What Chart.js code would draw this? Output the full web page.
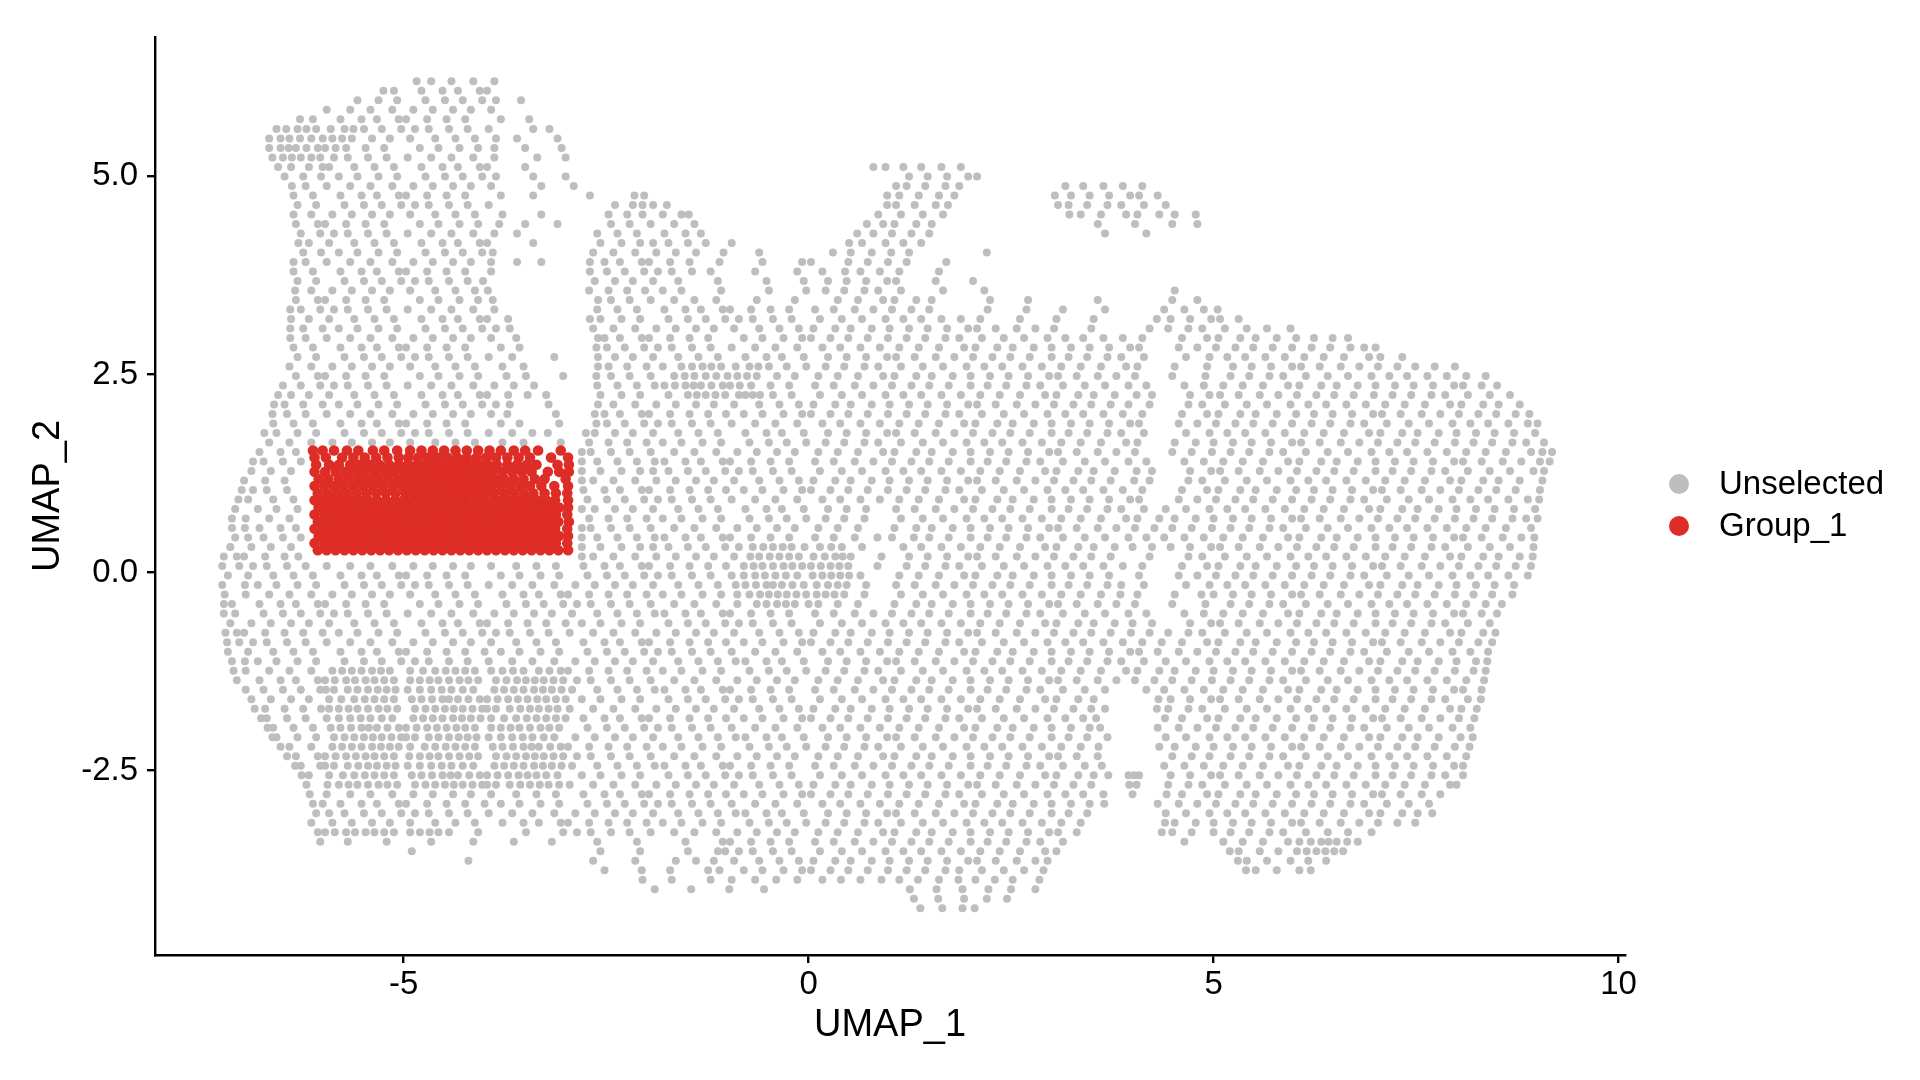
<!DOCTYPE html>
<html>
<head>
<meta charset="utf-8">
<script src="https://cdn.jsdelivr.net/npm/chart.js@4.4.1/dist/chart.umd.min.js"></script>
<style>
html,body{margin:0;padding:0;background:#fff;}
canvas{display:block;}
</style>
</head>
<body>
<canvas id="c" width="1920" height="1080"></canvas>
<script>
// ---- data ----
const seriesNames = ['Unselected', 'Group_1'];
const seriesColors = ['#BEBEBE', '#DE2D26'];
const axisTitles = ['UMAP_1', 'UMAP_2'];
const xTickValues = [-5, 0, 5, 10];
const xTickLabels = ['-5', '0', '5', '10'];
const yTickValues = [-2.5, 0, 2.5, 5];
const yTickLabels = ['-2.5', '0.0', '2.5', '5.0'];

// each row: [y, x1, x2, ...]
const unselectedRows = [
[6.20,-4.84,-4.66,-4.41,-4.14,-3.88],
[6.08,-5.25,-5.12,-4.78,-4.52,-4.33,-4.06,-3.97],
[5.96,-5.57,-5.31,-5.08,-4.73,-4.49,-4.27,-4.03,-3.86,-3.55],
[5.84,-5.95,-5.66,-5.41,-5.14,-4.88,-4.64,-4.39,-4.17,-3.92],
[5.72,-6.28,-6.12,-5.78,-5.52,-5.33,-5.06,-4.97,-4.71,-4.47,-4.24,-3.8,-3.45],
[5.60,-6.57,-6.45,-6.31,-6.2,-6.08,-5.9,-5.73,-5.62,-5.49,-5.27,-5.03,-4.86,-4.69,-4.44,-4.21,-3.95,-3.4,-3.2],
[5.48,-6.66,-6.52,-6.41,-6.28,-6.14,-6.0,-5.88,-5.76,-5.64,-5.39,-5.17,-4.92,-4.61,-4.36,-4.12,-3.86,-3.6,-3.1],
[5.36,-6.66,-6.52,-6.42,-6.33,-6.2,-6.06,-5.97,-5.84,-5.71,-5.47,-5.24,-4.8,-4.57,-4.31,-4.08,-3.88,-3.5,-3.05],
[5.24,-6.62,-6.49,-6.38,-6.27,-6.14,-6.03,-5.86,-5.69,-5.44,-5.21,-4.95,-4.66,-4.41,-4.14,-3.88,-3.35,-3.0],
[5.12,-6.55,-6.39,-6.17,-6.0,-5.92,-5.61,-5.36,-5.12,-4.78,-4.52,-4.33,-4.06,-3.97,-3.5,0.8,0.95,1.17,1.39,1.64,1.88],
[5.00,-6.47,-6.24,-6.02,-5.8,-5.57,-5.31,-5.08,-4.73,-4.49,-4.27,-4.03,-3.86,-3.4,-3.0,1.24,1.47,1.71,1.97,2.08],
[4.88,-6.38,-6.21,-5.95,-5.66,-5.41,-5.14,-4.88,-4.64,-4.39,-4.17,-3.92,-3.3,-2.9,1.08,1.21,1.44,1.69,1.86,3.17,3.39,3.64,3.88,4.12],
[4.76,-6.36,-6.12,-5.78,-5.52,-5.33,-5.06,-4.97,-4.71,-4.47,-4.24,-3.8,-3.4,-2.7,-2.15,-2.03,0.97,1.12,1.36,1.61,1.8,3.04,3.24,3.47,3.71,3.97,4.08,4.31],
[4.64,-6.31,-6.08,-5.73,-5.49,-5.27,-5.03,-4.86,-4.69,-4.44,-4.21,-3.95,-2.39,-2.17,-2.05,-1.92,-1.75,0.97,1.08,1.31,1.57,1.72,3.08,3.21,3.44,3.69,3.86,4.14,4.41],
[4.52,-6.36,-6.14,-5.88,-5.64,-5.39,-5.17,-4.92,-4.61,-4.36,-4.12,-3.78,-3.3,-2.47,-2.24,-2.05,-1.8,-1.57,-1.48,0.86,1.14,1.41,1.66,3.22,3.36,3.61,3.92,4.06,4.33,4.52,4.78],
[4.40,-6.33,-6.06,-5.97,-5.71,-5.47,-5.24,-4.8,-4.57,-4.31,-4.08,-3.82,-3.5,-3.1,-2.44,-2.21,-1.95,-1.66,-1.41,0.72,0.92,1.06,1.33,1.52,3.57,4.03,4.49,4.8],
[4.28,-6.27,-6.03,-5.86,-5.69,-5.44,-5.21,-4.95,-4.66,-4.41,-4.14,-3.88,-3.6,-2.61,-2.36,-2.12,-1.78,-1.52,-1.33,0.6,0.8,1.03,1.27,1.49,3.66,4.17],
[4.16,-6.3,-6.17,-5.92,-5.61,-5.36,-5.12,-4.78,-4.52,-4.33,-4.06,-3.97,-3.4,-2.57,-2.31,-2.08,-1.92,-1.73,-1.49,-1.27,-0.95,0.5,0.66,0.95,1.17,1.39],
[4.04,-6.24,-6.02,-5.8,-5.57,-5.31,-5.08,-4.73,-4.49,-4.27,-4.03,-3.9,-2.66,-2.41,-2.14,-1.88,-1.64,-1.39,-1.05,-0.61,0.3,0.52,0.78,1.02,1.24,2.2],
[3.92,-6.36,-6.21,-5.95,-5.66,-5.41,-5.14,-4.88,-4.64,-4.39,-4.17,-3.92,-3.6,-3.3,-2.7,-2.52,-2.33,-2.06,-1.97,-1.71,-1.47,-1.1,-0.57,-0.08,0.03,0.49,0.73,0.98,1.21,1.7],
[3.80,-6.36,-6.12,-5.78,-5.52,-5.33,-5.06,-4.97,-4.71,-4.47,-4.24,-3.92,-2.7,-2.49,-2.27,-2.03,-1.86,-1.69,-1.44,-1.21,-0.66,-0.14,0.17,0.45,0.64,0.88,1.12,1.61],
[3.68,-6.31,-6.08,-5.73,-5.49,-5.27,-5.03,-4.86,-4.69,-4.44,-4.21,-4.02,-2.64,-2.39,-2.17,-1.92,-1.61,-1.12,-0.52,-0.06,0.24,0.47,0.71,0.97,1.08,1.57,2.03],
[3.56,-6.34,-6.14,-5.88,-5.64,-5.39,-5.17,-4.92,-4.61,-4.36,-4.12,-3.96,-2.71,-2.47,-2.24,-2.02,-1.8,-1.57,-1.08,-0.49,-0.03,0.21,0.44,0.69,0.86,1.14,1.66,2.17,4.52],
[3.44,-6.33,-6.06,-5.97,-5.71,-5.47,-5.24,-4.8,-4.57,-4.31,-4.08,-3.9,-2.6,-2.44,-2.21,-1.95,-1.66,-1.41,-1.14,-0.64,-0.17,0.36,0.61,0.92,1.06,1.33,1.52,2.24,2.71,3.57,4.49,4.8],
[3.32,-6.4,-6.27,-6.03,-5.86,-5.69,-5.44,-5.21,-4.95,-4.66,-4.41,-4.14,-3.88,-2.61,-2.36,-2.12,-1.78,-1.52,-1.33,-1.06,-0.97,-0.71,-0.47,-0.24,0.08,0.31,0.57,0.8,1.03,1.27,1.49,2.21,2.69,3.14,3.66,4.39,4.64,4.88,5.05],
[3.20,-6.39,-6.17,-5.92,-5.61,-5.36,-5.12,-4.78,-4.52,-4.33,-4.06,-3.97,-3.71,-2.7,-2.57,-2.31,-2.08,-1.73,-1.49,-1.27,-1.03,-0.86,-0.69,-0.44,-0.21,0.14,0.41,0.66,0.95,1.17,1.39,1.64,1.88,2.12,2.61,3.06,3.52,4.3,4.47,4.71,4.97,5.08,5.31],
[3.08,-6.4,-6.24,-6.0,-5.8,-5.57,-5.31,-5.08,-4.73,-4.49,-4.27,-4.03,-3.86,-3.69,-2.66,-2.41,-2.14,-1.88,-1.64,-1.39,-1.17,-0.92,-0.61,-0.36,-0.12,0.06,0.33,0.52,0.78,1.0,1.24,1.47,1.71,1.97,2.08,2.31,2.57,2.8,3.03,3.49,4.21,4.44,4.69,4.86,5.14,5.41,5.66,5.95],
[2.96,-6.4,-6.21,-5.95,-5.66,-5.41,-5.14,-4.88,-4.64,-4.39,-4.17,-3.92,-3.61,-2.6,-2.52,-2.33,-2.06,-1.97,-1.71,-1.47,-1.24,-0.8,-0.57,-0.31,-0.08,0.03,0.27,0.49,0.73,0.98,1.21,1.44,1.69,1.86,2.14,2.41,2.66,2.95,3.17,3.39,3.64,3.88,4.12,4.61,4.92,5.06,5.33,5.52,5.78,6.02,6.24,6.47,6.66],
[2.84,-6.36,-6.12,-5.78,-5.52,-5.33,-5.06,-4.97,-4.71,-4.47,-4.24,-3.8,-3.57,-2.62,-2.49,-2.27,-2.03,-1.86,-1.69,-1.44,-1.21,-0.95,-0.66,-0.41,-0.14,0.17,0.39,0.64,0.88,1.12,1.36,1.61,1.92,2.06,2.33,2.52,2.78,3.0,3.24,3.47,3.71,3.97,4.08,4.57,4.8,5.03,5.27,5.49,5.73,5.97,6.21,6.44,6.69,6.86,7.0],
[2.72,-6.31,-6.08,-5.73,-5.49,-5.27,-5.03,-4.86,-4.69,-4.44,-4.21,-3.95,-3.66,-3.14,-2.6,-2.39,-2.17,-1.92,-1.61,-1.36,-1.12,-0.78,-0.52,-0.33,-0.06,0.24,0.47,0.71,0.97,1.08,1.31,1.57,1.8,2.03,2.27,2.49,2.73,3.0,3.21,3.44,3.69,3.86,4.14,4.66,4.95,5.17,5.39,5.64,5.88,6.12,6.36,6.61,6.92,7.06,7.33],
[2.60,-6.41,-6.14,-5.88,-5.64,-5.39,-5.17,-4.92,-4.61,-4.36,-4.12,-3.78,-3.52,-2.6,-2.47,-2.24,-2.0,-1.8,-1.57,-1.44,-1.31,-1.2,-1.08,-0.9,-0.73,-0.62,-0.49,-0.27,-0.03,0.21,0.44,0.69,0.86,1.14,1.41,1.66,1.95,2.17,2.39,2.64,2.88,3.12,3.36,3.61,3.92,4.06,4.52,4.92,5.24,5.47,5.71,5.97,6.08,6.31,6.57,6.8,7.03,7.27,7.49,7.73,7.98],
[2.48,-6.33,-6.06,-5.97,-5.71,-5.47,-5.24,-4.8,-4.57,-4.31,-4.08,-3.73,-3.49,-3.03,-2.62,-2.44,-2.21,-1.95,-1.66,-1.53,-1.41,-1.27,-1.14,-1.0,-0.88,-0.76,-0.64,-0.39,-0.17,0.12,0.36,0.61,0.92,1.06,1.33,1.52,1.78,2.0,2.24,2.47,2.71,2.97,3.08,3.31,3.57,3.8,4.03,4.49,4.9,5.21,5.44,5.69,5.86,6.14,6.41,6.66,6.95,7.17,7.39,7.64,7.88,8.12,8.36],
[2.36,-6.49,-6.27,-6.03,-5.86,-5.69,-5.44,-5.21,-4.95,-4.66,-4.41,-4.14,-3.88,-3.64,-3.39,-2.61,-2.36,-2.12,-1.9,-1.78,-1.65,-1.52,-1.42,-1.33,-1.2,-1.06,-0.97,-0.85,-0.71,-0.47,-0.24,0.08,0.31,0.57,0.8,1.03,1.27,1.49,1.73,2.0,2.21,2.44,2.69,2.86,3.14,3.41,3.66,3.95,4.17,4.64,4.88,5.12,5.36,5.61,5.92,6.06,6.33,6.52,6.78,7.0,7.24,7.47,7.71,7.97,8.08,8.31,8.5],
[2.24,-6.55,-6.39,-6.17,-5.92,-5.61,-5.36,-5.12,-4.78,-4.52,-4.33,-4.06,-3.97,-3.71,-3.47,-3.24,-2.57,-2.31,-2.08,-1.73,-1.49,-1.38,-1.27,-1.15,-1.03,-0.86,-0.78,-0.69,-0.6,-0.44,-0.21,0.14,0.41,0.66,0.95,1.17,1.39,1.64,1.88,2.12,2.36,2.61,2.92,3.06,3.33,3.52,3.78,4.05,4.24,4.71,4.95,5.08,5.31,5.57,5.8,6.03,6.27,6.49,6.73,6.98,7.21,7.44,7.69,7.86,8.14,8.41,8.66],
[2.12,-6.6,-6.47,-6.24,-6.0,-5.8,-5.57,-5.31,-5.08,-4.73,-4.49,-4.27,-4.03,-3.86,-3.69,-3.21,-2.6,-2.41,-2.14,-1.88,-1.64,-1.39,-1.17,-0.92,-0.61,-0.36,-0.12,0.06,0.33,0.52,0.78,1.0,1.24,1.47,1.71,1.97,2.08,2.31,2.57,2.8,3.03,3.27,3.49,3.73,3.95,4.21,4.69,4.86,5.14,5.41,5.66,5.95,6.17,6.39,6.64,6.88,7.12,7.36,7.61,7.92,8.06,8.33,8.52,8.78],
[2.00,-6.62,-6.44,-6.21,-5.95,-5.66,-5.41,-5.14,-4.88,-4.64,-4.39,-4.17,-3.92,-3.72,-3.12,-2.64,-2.52,-2.33,-2.06,-1.97,-1.71,-1.47,-1.24,-1.02,-0.8,-0.57,-0.31,-0.08,0.03,0.27,0.49,0.73,0.98,1.21,1.44,1.69,1.86,2.14,2.41,2.66,2.95,3.17,3.39,3.64,3.88,4.12,4.61,4.92,5.06,5.33,5.52,5.78,6.02,6.24,6.47,6.71,6.97,7.08,7.31,7.57,7.8,8.03,8.27,8.49,8.73,8.9],
[1.88,-6.61,-6.36,-6.12,-5.78,-5.52,-5.33,-5.06,-4.97,-4.71,-4.47,-4.24,-3.8,-3.57,-3.08,-2.62,-2.49,-2.27,-2.03,-1.86,-1.69,-1.44,-1.21,-0.95,-0.66,-0.41,-0.14,0.17,0.39,0.64,0.88,1.12,1.36,1.61,1.92,2.06,2.33,2.52,2.78,3.0,3.24,3.47,3.71,3.97,4.08,4.57,4.8,5.03,5.27,5.49,5.73,5.97,6.21,6.44,6.69,6.86,7.14,7.41,7.66,7.95,8.17,8.39,8.64,8.88,9.0],
[1.76,-6.72,-6.57,-6.31,-6.08,-5.73,-5.49,-5.27,-5.03,-4.86,-4.69,-4.44,-4.21,-3.95,-3.66,-3.41,-3.22,-2.75,-2.64,-2.39,-2.17,-1.92,-1.61,-1.36,-1.12,-0.78,-0.52,-0.33,-0.06,0.24,0.47,0.71,0.97,1.08,1.31,1.57,1.8,2.03,2.27,2.49,2.73,3.0,3.21,3.44,3.69,3.86,4.14,4.66,4.95,5.17,5.39,5.64,5.88,6.12,6.36,6.61,6.92,7.06,7.33,7.52,7.78,8.0,8.24,8.47,8.71,8.97],
[1.64,-6.66,-6.41,-6.14,-5.88,-5.64,-5.39,-5.17,-4.92,-4.61,-4.36,-4.12,-3.78,-3.52,-3.06,-2.71,-2.47,-2.24,-2.0,-1.8,-1.57,-1.31,-1.08,-0.73,-0.49,-0.27,-0.03,0.21,0.44,0.69,0.86,1.14,1.41,1.66,1.95,2.17,2.39,2.64,2.88,3.12,3.36,3.61,3.92,4.06,4.52,4.78,5.0,5.24,5.47,5.71,5.97,6.08,6.31,6.57,6.8,7.03,7.27,7.49,7.73,7.98,8.21,8.44,8.69,8.86,9.08],
[1.52,-6.78,-6.52,-6.33,-2.8,-2.69,-2.44,-2.21,-1.95,-1.66,-1.41,-1.14,-0.88,-0.64,-0.39,-0.17,0.12,0.36,0.61,0.92,1.06,1.33,1.52,1.78,2.0,2.24,2.47,2.71,2.97,3.08,3.31,3.57,3.8,4.03,4.49,4.73,4.98,5.21,5.44,5.69,5.86,6.14,6.41,6.66,6.95,7.17,7.39,7.64,7.88,8.12,8.36,8.61,8.92,9.06,9.18],
[1.40,-6.86,-6.73,-6.49,-6.27,-2.8,-2.61,-2.36,-2.12,-1.9,-1.78,-1.52,-1.33,-1.06,-0.97,-0.71,-0.47,-0.24,0.08,0.31,0.57,0.8,1.03,1.27,1.49,1.73,2.0,2.21,2.44,2.69,2.86,3.14,3.41,3.66,3.95,4.17,4.64,4.88,5.12,5.36,5.61,5.92,6.06,6.33,6.52,6.78,7.0,7.24,7.47,7.71,7.97,8.08,8.31,8.57,8.8,9.03,9.15],
[1.28,-6.88,-6.64,-6.39,-2.8,-2.57,-2.31,-2.08,-1.92,-1.73,-1.49,-1.27,-1.03,-0.86,-0.69,-0.44,-0.21,0.14,0.41,0.66,0.95,1.17,1.39,1.64,1.88,2.12,2.36,2.61,2.92,3.06,3.33,3.52,3.78,4.05,4.24,4.71,4.97,5.08,5.31,5.57,5.8,6.03,6.27,6.49,6.73,7.0,7.21,7.44,7.69,7.86,8.14,8.41,8.66,8.95,9.08],
[1.16,-6.97,-6.71,-6.47,-2.8,-2.66,-2.41,-2.14,-1.88,-1.64,-1.39,-1.17,-0.92,-0.61,-0.36,-0.12,0.06,0.33,0.52,0.78,1.0,1.24,1.47,1.71,1.97,2.08,2.31,2.57,2.8,3.03,3.27,3.49,3.73,4.02,4.21,4.69,4.86,5.14,5.41,5.66,5.95,6.17,6.39,6.64,6.88,7.12,7.36,7.61,7.92,8.06,8.33,8.52,8.78,9.06],
[1.04,-7.0,-6.86,-6.69,-6.44,-2.78,-2.52,-2.33,-2.06,-1.97,-1.71,-1.47,-1.24,-1.02,-0.8,-0.57,-0.31,-0.08,0.03,0.27,0.49,0.73,0.98,1.21,1.44,1.69,1.86,2.14,2.41,2.66,2.95,3.17,3.39,3.64,3.88,4.12,4.61,4.92,5.06,5.33,5.52,5.78,6.02,6.24,6.47,6.71,6.97,7.08,7.31,7.57,7.8,8.03,8.27,8.49,8.73,9.03],
[0.92,-7.04,-6.92,-6.61,-6.36,-2.73,-2.49,-2.27,-2.03,-1.86,-1.69,-1.44,-1.21,-0.95,-0.66,-0.41,-0.14,0.17,0.39,0.64,0.88,1.12,1.36,1.61,1.92,2.06,2.33,2.52,2.78,3.0,3.24,3.47,3.71,3.97,4.08,4.57,4.8,5.03,5.27,5.49,5.73,5.97,6.21,6.44,6.69,6.86,7.14,7.41,7.66,7.95,8.17,8.39,8.64,8.88,9.02],
[0.80,-7.08,-6.8,-6.57,-6.31,-2.8,-2.64,-2.39,-2.17,-1.92,-1.61,-1.36,-1.12,-0.78,-0.52,-0.33,-0.06,0.24,0.47,0.71,1.08,1.31,1.57,1.8,2.03,2.27,2.49,2.73,3.0,3.21,3.44,3.69,3.86,4.14,4.41,4.66,4.95,5.17,5.39,5.64,5.88,6.12,6.36,6.61,6.92,7.06,7.33,7.52,7.78,8.0,8.24,8.47,8.71,8.97],
[0.68,-7.12,-6.95,-6.66,-6.41,-2.71,-2.47,-2.24,-2.0,-1.8,-1.57,-1.31,-1.08,-0.73,-0.49,-0.27,-0.03,0.21,0.44,0.69,1.14,1.41,1.66,1.95,2.17,2.39,2.64,2.88,3.12,3.36,3.61,3.92,4.06,4.33,4.52,4.78,5.0,5.24,5.47,5.71,5.97,6.08,6.31,6.57,6.8,7.03,7.27,7.49,7.73,7.98,8.21,8.44,8.69,8.86,9.0],
[0.56,-7.12,-6.96,-6.78,-6.52,-6.33,-2.8,-2.69,-2.44,-2.21,-1.95,-1.66,-1.41,-1.14,-0.88,-0.64,-0.39,-0.17,0.12,0.36,0.61,1.06,1.33,1.52,1.78,2.0,2.24,2.47,2.71,2.97,3.08,3.31,3.57,3.8,4.03,4.27,4.49,4.73,4.98,5.21,5.44,5.69,5.86,6.14,6.41,6.66,6.95,7.17,7.39,7.64,7.88,8.12,8.36,8.61,8.92],
[0.44,-7.08,-6.92,-6.73,-6.49,-6.27,-2.8,-2.61,-2.36,-2.12,-1.9,-1.78,-1.52,-1.33,-1.06,-0.97,-0.71,-0.47,-0.24,0.08,0.31,0.57,0.85,1.03,1.3,1.49,1.73,2.0,2.21,2.44,2.69,2.86,3.14,3.41,3.66,3.95,4.17,4.39,4.64,4.88,5.12,5.36,5.61,5.92,6.06,6.33,6.52,6.78,7.0,7.24,7.47,7.71,7.97,8.08,8.31,8.57,8.8,8.96],
[0.32,-7.14,-6.88,-6.64,-6.39,-2.8,-2.57,-2.31,-2.08,-1.92,-1.73,-1.49,-1.27,-1.03,-0.86,-0.69,-0.56,-0.44,-0.32,-0.21,-0.05,0.14,0.28,0.41,0.66,1.17,1.39,1.64,1.88,2.12,2.36,2.61,2.92,3.06,3.33,3.52,3.78,4.0,4.24,4.47,4.71,4.97,5.08,5.31,5.57,5.8,6.03,6.27,6.49,6.73,7.0,7.21,7.44,7.69,7.86,8.14,8.41,8.66,8.95],
[0.20,-7.22,-7.06,-6.97,-6.71,-6.47,-6.3,-2.8,-2.66,-2.41,-2.14,-1.88,-1.64,-1.39,-1.17,-0.92,-0.72,-0.61,-0.48,-0.36,-0.24,-0.12,0.06,0.2,0.33,0.42,0.52,0.9,1.24,1.47,1.71,1.97,2.08,2.31,2.57,2.8,3.03,3.27,3.49,3.73,4.21,4.69,4.86,5.14,5.41,5.66,5.95,6.17,6.39,6.64,6.88,7.12,7.36,7.61,7.92,8.06,8.33,8.52,8.78,8.94],
[0.08,-7.24,-7.03,-6.86,-6.69,-6.44,-6.21,-5.95,-5.66,-5.41,-5.14,-4.88,-4.64,-4.39,-4.17,-3.92,-3.61,-3.36,-3.12,-2.78,-2.52,-2.33,-2.06,-1.97,-1.71,-1.47,-1.24,-1.02,-0.8,-0.68,-0.57,-0.44,-0.31,-0.2,-0.08,0.03,0.15,0.27,0.38,0.49,0.85,1.21,1.44,1.69,1.86,2.14,2.41,2.66,2.95,3.17,3.39,3.64,3.88,4.12,4.61,4.92,5.06,5.33,5.52,5.78,6.02,6.24,6.47,6.71,6.97,7.08,7.31,7.57,7.8,8.03,8.27,8.49,8.73,8.92],
[-0.04,-7.17,-6.92,-6.61,-6.36,-6.12,-5.78,-5.52,-5.33,-5.06,-4.97,-4.71,-4.47,-4.24,-3.8,-3.57,-3.31,-3.08,-2.73,-2.49,-2.27,-2.03,-1.86,-1.69,-1.44,-1.21,-0.95,-0.8,-0.66,-0.54,-0.41,-0.28,-0.14,0.05,0.17,0.28,0.39,0.5,0.64,1.12,1.36,1.61,1.92,2.06,2.33,2.52,2.78,3.0,3.24,3.47,3.71,4.08,4.57,4.8,5.03,5.27,5.49,5.73,5.97,6.21,6.44,6.69,6.86,7.14,7.41,7.66,7.95,8.17,8.39,8.64,8.88],
[-0.16,-7.24,-6.96,-6.8,-6.57,-6.31,-6.08,-5.73,-5.49,-5.27,-5.03,-4.86,-4.69,-4.44,-4.21,-3.95,-3.66,-3.41,-3.14,-2.88,-2.64,-2.39,-2.17,-1.92,-1.61,-1.36,-1.12,-0.9,-0.78,-0.65,-0.52,-0.44,-0.33,-0.2,-0.06,0.1,0.24,0.36,0.47,0.71,1.08,1.31,1.57,1.8,2.03,2.27,2.49,2.73,3.0,3.21,3.44,3.69,3.86,4.14,4.66,4.95,5.17,5.39,5.64,5.88,6.12,6.36,6.61,6.92,7.06,7.33,7.52,7.78,8.0,8.24,8.47,8.71],
[-0.28,-7.21,-6.95,-6.66,-6.41,-6.14,-5.88,-5.64,-5.39,-5.17,-4.92,-4.61,-4.36,-4.12,-3.78,-3.52,-3.33,-3.06,-2.97,-2.71,-2.47,-2.24,-2.0,-1.8,-1.57,-1.31,-1.08,-0.88,-0.73,-0.6,-0.49,-0.38,-0.27,-0.15,-0.03,0.1,0.21,0.32,0.44,0.69,1.14,1.41,1.66,1.95,2.17,2.39,2.64,2.88,3.12,3.36,3.61,3.85,4.06,4.52,4.85,5.0,5.24,5.47,5.71,5.97,6.08,6.31,6.57,6.8,7.03,7.27,7.49,7.73,7.98,8.21,8.44,8.69],
[-0.40,-7.22,-7.12,-6.78,-6.52,-6.33,-6.06,-5.97,-5.71,-5.47,-5.24,-4.8,-4.57,-4.31,-4.08,-3.73,-3.49,-3.27,-3.03,-2.86,-2.69,-2.44,-2.21,-1.95,-1.66,-1.41,-1.14,-0.88,-0.64,-0.52,-0.39,-0.28,-0.17,0.0,0.12,0.36,0.61,1.06,1.33,1.52,1.78,2.0,2.24,2.47,2.71,2.97,3.08,3.31,3.57,3.8,4.03,4.49,4.9,5.21,5.44,5.69,5.86,6.14,6.41,6.66,6.95,7.17,7.39,7.64,7.88,8.12,8.36,8.56],
[-0.52,-7.22,-7.08,-6.73,-6.49,-6.27,-6.03,-5.86,-5.69,-5.44,-5.21,-4.95,-4.66,-4.41,-4.14,-3.88,-3.64,-3.39,-3.17,-2.92,-2.61,-2.36,-2.12,-1.9,-1.78,-1.52,-1.33,-1.06,-0.97,-0.71,-0.47,-0.24,0.08,0.31,0.57,0.8,1.03,1.27,1.49,1.73,2.0,2.21,2.44,2.69,2.86,3.14,3.41,3.66,3.95,4.17,4.64,4.88,5.12,5.36,5.61,5.92,6.06,6.33,6.52,6.78,7.0,7.24,7.47,7.71,7.97,8.08,8.31,8.5],
[-0.64,-7.14,-6.88,-6.64,-6.39,-6.17,-5.92,-5.61,-5.36,-5.12,-4.78,-4.52,-4.33,-4.06,-3.97,-3.71,-3.47,-3.24,-3.0,-2.8,-2.57,-2.31,-2.08,-1.73,-1.49,-1.27,-1.03,-0.86,-0.69,-0.44,-0.21,0.14,0.41,0.66,0.95,1.17,1.39,1.64,1.88,2.12,2.36,2.61,2.92,3.06,3.33,3.52,3.78,4.0,4.24,4.71,4.97,5.08,5.31,5.57,5.8,6.03,6.27,6.49,6.73,7.0,7.21,7.44,7.69,7.86,8.14,8.41],
[-0.76,-7.2,-7.06,-6.97,-6.71,-6.47,-6.24,-6.0,-5.8,-5.57,-5.31,-5.08,-4.73,-4.49,-4.27,-4.03,-3.86,-3.69,-3.44,-3.21,-2.95,-2.66,-2.41,-2.14,-1.88,-1.64,-1.39,-1.17,-0.92,-0.61,-0.36,-0.12,0.06,0.33,0.52,0.78,1.0,1.24,1.47,1.71,1.97,2.08,2.31,2.57,2.8,3.03,3.27,3.49,3.73,3.98,4.21,4.44,4.69,4.86,5.14,5.41,5.66,5.95,6.17,6.39,6.64,6.88,7.12,7.36,7.61,7.92,8.06,8.33,8.48],
[-0.88,-7.18,-7.03,-6.86,-6.69,-6.44,-6.21,-5.95,-5.66,-5.41,-5.14,-4.88,-4.64,-4.39,-4.17,-3.92,-3.61,-3.36,-3.12,-2.78,-2.52,-2.33,-2.06,-1.97,-1.71,-1.47,-1.24,-1.02,-0.8,-0.57,-0.31,-0.08,0.03,0.27,0.49,0.73,0.98,1.21,1.44,1.69,1.86,2.14,2.41,2.66,2.95,3.17,3.39,3.64,3.88,4.12,4.36,4.61,4.92,5.06,5.33,5.52,5.78,6.02,6.24,6.47,6.71,6.97,7.08,7.31,7.57,7.8,8.03,8.27,8.44],
[-1.00,-7.17,-6.92,-6.61,-6.36,-6.12,-5.78,-5.52,-5.33,-5.06,-4.97,-4.71,-4.47,-4.24,-4.0,-3.8,-3.57,-3.31,-3.08,-2.73,-2.49,-2.27,-2.03,-1.86,-1.69,-1.44,-1.21,-0.95,-0.66,-0.41,-0.14,0.17,0.39,0.64,0.88,1.12,1.36,1.61,1.92,2.06,2.33,2.52,2.78,3.0,3.24,3.47,3.71,3.97,4.08,4.31,4.57,4.8,5.03,5.27,5.49,5.73,5.97,6.21,6.44,6.69,6.86,7.14,7.41,7.66,7.95,8.17,8.39],
[-1.12,-7.12,-6.96,-6.8,-6.57,-6.31,-6.08,-5.73,-5.49,-5.27,-5.03,-4.86,-4.69,-4.44,-4.21,-3.95,-3.66,-3.41,-3.14,-2.88,-2.64,-2.39,-2.17,-1.92,-1.61,-1.36,-1.12,-0.9,-0.78,-0.52,-0.33,-0.06,0.24,0.47,0.71,0.97,1.08,1.31,1.57,1.8,2.03,2.27,2.49,2.73,3.0,3.21,3.44,3.69,3.86,4.14,4.41,4.66,4.95,5.17,5.39,5.64,5.88,6.12,6.36,6.61,6.92,7.06,7.33,7.52,7.78,8.0,8.24,8.38],
[-1.24,-7.1,-6.95,-6.66,-6.41,-6.14,-5.88,-5.76,-5.64,-5.52,-5.39,-5.28,-5.17,-4.92,-4.76,-4.61,-4.48,-4.36,-4.24,-4.12,-3.92,-3.78,-3.65,-3.52,-3.33,-3.2,-3.06,-2.97,-2.71,-2.47,-2.24,-2.0,-1.8,-1.57,-1.31,-1.08,-0.73,-0.49,-0.27,-0.03,0.21,0.44,0.69,0.86,1.14,1.41,1.66,1.95,2.17,2.39,2.64,2.88,3.12,3.36,3.61,3.92,4.06,4.33,4.52,4.78,5.0,5.24,5.47,5.71,5.97,6.08,6.31,6.57,6.8,7.03,7.27,7.49,7.73,7.98,8.21,8.36],
[-1.36,-7.06,-6.78,-6.52,-6.33,-6.06,-5.97,-5.85,-5.71,-5.6,-5.47,-5.36,-5.24,-5.12,-4.92,-4.8,-4.68,-4.57,-4.44,-4.31,-4.2,-4.08,-3.86,-3.73,-3.6,-3.49,-3.38,-3.27,-3.15,-3.03,-2.86,-2.69,-2.44,-2.21,-1.95,-1.66,-1.41,-1.14,-0.88,-0.64,-0.39,-0.17,0.12,0.36,0.61,0.92,1.06,1.33,1.52,1.78,2.0,2.24,2.47,2.71,2.97,3.08,3.31,3.57,3.8,4.03,4.27,4.49,4.73,4.98,5.21,5.44,5.69,5.86,6.14,6.41,6.66,6.95,7.17,7.39,7.64,7.88,8.12,8.34],
[-1.48,-6.95,-6.73,-6.49,-6.27,-6.03,-5.96,-5.86,-5.69,-5.57,-5.44,-5.32,-5.21,-5.1,-4.95,-4.8,-4.66,-4.53,-4.41,-4.27,-4.14,-3.88,-3.76,-3.64,-3.52,-3.39,-3.28,-3.17,-3.05,-2.92,-2.61,-2.36,-2.12,-1.9,-1.78,-1.52,-1.33,-1.06,-0.97,-0.71,-0.47,-0.24,0.08,0.31,0.57,0.8,1.03,1.27,1.49,1.73,2.0,2.21,2.44,2.69,2.86,3.14,3.41,3.66,4.17,4.39,4.64,4.88,5.12,5.36,5.61,5.92,6.06,6.33,6.52,6.78,7.0,7.24,7.47,7.71,7.97,8.08,8.31],
[-1.60,-6.88,-6.64,-6.39,-6.17,-5.92,-5.77,-5.61,-5.48,-5.36,-5.24,-5.12,-4.9,-4.78,-4.65,-4.52,-4.44,-4.33,-4.2,-4.06,-3.97,-3.84,-3.71,-3.59,-3.47,-3.35,-3.24,-3.12,-3.0,-2.8,-2.57,-2.31,-2.08,-1.73,-1.49,-1.27,-1.03,-0.86,-0.69,-0.44,-0.21,0.14,0.41,0.66,0.95,1.17,1.39,1.64,1.88,2.12,2.36,2.61,2.92,3.06,3.33,3.52,4.32,4.47,4.71,4.97,5.08,5.31,5.57,5.8,6.03,6.27,6.49,6.73,7.0,7.21,7.44,7.69,7.86,8.14,8.3],
[-1.72,-6.84,-6.71,-6.47,-6.24,-6.02,-5.92,-5.8,-5.68,-5.57,-5.44,-5.31,-5.2,-5.08,-4.86,-4.73,-4.61,-4.49,-4.38,-4.27,-4.15,-4.03,-3.97,-3.86,-3.69,-3.56,-3.44,-3.33,-3.21,-3.1,-2.95,-2.66,-2.41,-2.14,-1.88,-1.64,-1.39,-1.17,-0.92,-0.61,-0.36,-0.12,0.06,0.33,0.52,0.78,1.0,1.24,1.47,1.71,1.97,2.08,2.31,2.57,2.8,3.03,3.27,3.49,3.66,4.3,4.44,4.69,4.86,5.14,5.41,5.66,5.95,6.17,6.39,6.64,6.88,7.12,7.36,7.61,7.92,8.06,8.25],
[-1.84,-6.76,-6.69,-6.44,-6.21,-5.95,-5.8,-5.66,-5.53,-5.41,-5.27,-5.14,-4.88,-4.76,-4.64,-4.52,-4.39,-4.28,-4.17,-4.05,-3.92,-3.76,-3.61,-3.48,-3.36,-3.24,-3.12,-3.0,-2.78,-2.52,-2.33,-2.06,-1.97,-1.71,-1.47,-1.24,-1.02,-0.8,-0.57,-0.31,-0.08,0.03,0.27,0.49,0.73,0.98,1.21,1.44,1.69,1.86,2.14,2.41,2.66,2.95,3.17,3.39,3.55,4.4,4.61,4.92,5.06,5.33,5.52,5.78,6.02,6.24,6.47,6.71,6.97,7.08,7.31,7.57,7.8,8.03,8.22],
[-1.96,-6.68,-6.61,-6.36,-6.12,-5.9,-5.78,-5.65,-5.52,-5.43,-5.33,-5.2,-5.06,-4.97,-4.84,-4.71,-4.59,-4.47,-4.35,-4.24,-4.12,-3.92,-3.8,-3.68,-3.57,-3.44,-3.31,-3.2,-3.08,-2.73,-2.49,-2.27,-2.03,-1.86,-1.69,-1.44,-1.21,-0.95,-0.66,-0.41,-0.14,0.17,0.39,0.64,0.88,1.12,1.36,1.61,1.92,2.06,2.33,2.52,2.78,3.0,3.24,3.47,3.6,4.31,4.57,4.8,5.03,5.27,5.49,5.73,5.97,6.21,6.44,6.69,6.86,7.14,7.41,7.66,7.95,8.17],
[-2.08,-6.62,-6.57,-6.31,-6.08,-5.86,-5.73,-5.61,-5.49,-5.38,-5.27,-5.15,-5.03,-4.97,-4.86,-4.69,-4.57,-4.44,-4.32,-4.21,-4.1,-3.95,-3.8,-3.66,-3.53,-3.41,-3.27,-3.14,-2.88,-2.64,-2.39,-2.17,-1.92,-1.61,-1.36,-1.12,-0.9,-0.78,-0.52,-0.33,-0.06,0.24,0.47,0.71,0.97,1.08,1.31,1.57,1.8,2.03,2.27,2.49,2.73,3.0,3.21,3.44,3.69,4.41,4.66,4.95,5.17,5.39,5.64,5.88,6.12,6.36,6.61,6.92,7.06,7.33,7.52,7.78,8.05,8.2],
[-2.20,-6.52,-6.41,-6.14,-5.88,-5.76,-5.64,-5.52,-5.39,-5.28,-5.17,-5.06,-4.92,-4.74,-4.61,-4.48,-4.36,-4.24,-4.12,-3.9,-3.78,-3.65,-3.52,-3.42,-3.33,-3.19,-3.06,-2.97,-2.71,-2.47,-2.24,-2.0,-1.8,-1.57,-1.31,-1.08,-0.73,-0.49,-0.27,-0.03,0.21,0.44,0.69,0.86,1.14,1.41,1.66,1.95,2.17,2.39,2.64,2.88,3.12,3.36,3.58,4.33,4.52,4.78,5.0,5.24,5.47,5.71,5.97,6.08,6.31,6.57,6.8,7.03,7.27,7.49,7.73,7.98,8.16],
[-2.32,-6.44,-6.33,-6.06,-5.97,-5.84,-5.71,-5.59,-5.47,-5.36,-5.24,-5.12,-4.93,-4.8,-4.68,-4.57,-4.44,-4.31,-4.19,-4.08,-3.86,-3.73,-3.61,-3.49,-3.38,-3.27,-3.15,-3.03,-2.86,-2.69,-2.44,-2.21,-1.95,-1.66,-1.41,-1.14,-0.88,-0.64,-0.39,-0.17,0.12,0.36,0.61,0.92,1.06,1.33,1.52,1.78,2.0,2.24,2.47,2.71,2.97,3.08,3.31,3.57,4.49,4.73,4.95,5.21,5.44,5.69,5.86,6.14,6.41,6.66,6.95,7.17,7.39,7.64,7.88,8.12],
[-2.44,-6.34,-6.27,-6.03,-5.97,-5.86,-5.69,-5.56,-5.44,-5.33,-5.21,-5.1,-4.95,-4.8,-4.66,-4.53,-4.41,-4.27,-4.14,-3.88,-3.76,-3.64,-3.52,-3.39,-3.28,-3.17,-3.05,-2.92,-2.61,-2.36,-2.12,-1.9,-1.78,-1.52,-1.33,-1.06,-0.97,-0.71,-0.47,-0.24,0.08,0.31,0.57,0.8,1.03,1.27,1.49,1.73,2.0,2.21,2.44,2.69,2.86,3.14,3.41,3.62,4.39,4.64,4.88,5.12,5.36,5.61,5.92,6.06,6.33,6.52,6.78,7.0,7.24,7.47,7.71,7.97,8.08],
[-2.56,-6.26,-6.17,-5.92,-5.75,-5.61,-5.48,-5.36,-5.24,-5.12,-4.9,-4.78,-4.65,-4.52,-4.42,-4.33,-4.19,-4.06,-3.97,-3.84,-3.71,-3.58,-3.47,-3.36,-3.24,-3.1,-2.8,-2.57,-2.31,-2.08,-1.73,-1.49,-1.27,-1.03,-0.86,-0.69,-0.44,-0.21,0.14,0.41,0.66,0.95,1.17,1.39,1.64,1.88,2.12,2.36,2.61,2.92,3.06,3.33,3.52,3.7,3.95,4.02,4.08,4.47,4.71,4.97,5.08,5.31,5.57,5.8,6.03,6.27,6.49,6.73,7.0,7.21,7.44,7.69,7.86,8.08],
[-2.68,-6.2,-5.94,-5.8,-5.68,-5.57,-5.44,-5.31,-5.2,-5.08,-4.86,-4.73,-4.61,-4.49,-4.38,-4.27,-4.15,-4.03,-3.97,-3.86,-3.69,-3.56,-3.44,-3.32,-3.21,-3.08,-2.95,-2.66,-2.41,-2.14,-1.88,-1.64,-1.39,-1.17,-0.92,-0.61,-0.36,-0.12,0.06,0.33,0.52,0.78,1.0,1.24,1.47,1.71,1.97,2.08,2.31,2.57,2.8,3.03,3.27,3.49,3.96,4.05,4.44,4.69,4.86,5.14,5.41,5.66,5.95,6.17,6.39,6.64,6.88,7.12,7.36,7.61,7.92,8.0],
[-2.80,-6.16,-5.95,-5.66,-5.41,-5.14,-4.88,-4.64,-4.39,-4.17,-3.92,-3.61,-3.36,-3.12,-2.78,-2.52,-2.33,-2.06,-1.97,-1.71,-1.47,-1.24,-1.02,-0.8,-0.57,-0.31,-0.08,0.03,0.27,0.49,0.73,0.98,1.21,1.44,1.69,1.86,2.14,2.41,2.66,2.95,3.17,3.39,3.64,4.0,4.42,4.61,4.92,5.06,5.33,5.52,5.78,6.02,6.24,6.47,6.71,6.97,7.08,7.31,7.57,7.8],
[-2.92,-6.12,-6.0,-5.78,-5.52,-5.33,-5.06,-4.97,-4.71,-4.47,-4.24,-4.0,-3.8,-3.57,-3.31,-3.08,-2.73,-2.49,-2.27,-2.03,-1.86,-1.69,-1.44,-1.21,-0.95,-0.66,-0.41,-0.14,0.17,0.39,0.64,0.88,1.12,1.36,1.61,1.92,2.06,2.33,2.52,2.78,3.0,3.24,3.47,3.65,4.31,4.57,4.8,5.03,5.27,5.49,5.73,5.97,6.21,6.44,6.69,6.86,7.14,7.41,7.66],
[-3.04,-6.08,-5.92,-5.73,-5.49,-5.27,-5.03,-4.86,-4.69,-4.44,-4.21,-3.95,-3.66,-3.41,-3.14,-2.88,-2.64,-2.39,-2.17,-1.92,-1.61,-1.36,-1.12,-0.9,-0.78,-0.52,-0.33,-0.06,0.24,0.47,0.71,0.97,1.08,1.31,1.57,1.8,2.03,2.27,2.49,2.73,3.0,3.21,3.44,4.41,4.66,4.95,5.17,5.39,5.64,5.88,6.12,6.36,6.61,6.92,7.06,7.33,7.52,7.7],
[-3.16,-6.14,-5.88,-5.64,-5.39,-5.17,-4.92,-4.61,-4.36,-4.12,-3.78,-3.52,-3.33,-3.06,-2.97,-2.71,-2.47,-2.24,-2.0,-1.8,-1.57,-1.31,-1.08,-0.73,-0.49,-0.27,-0.03,0.21,0.44,0.69,0.86,1.14,1.41,1.66,1.95,2.17,2.39,2.64,2.88,3.12,3.36,4.4,4.52,4.78,5.0,5.24,5.47,5.71,5.97,6.08,6.31,6.57,6.8,7.03,7.27,7.49],
[-3.28,-6.06,-5.97,-5.85,-5.71,-5.6,-5.47,-5.36,-5.24,-5.12,-4.92,-4.8,-4.68,-4.57,-4.44,-4.08,-3.49,-3.03,-2.86,-2.69,-2.44,-2.21,-1.95,-1.66,-1.41,-1.14,-0.88,-0.64,-0.39,-0.17,0.12,0.36,0.61,0.92,1.06,1.33,1.52,1.78,2.0,2.24,2.47,2.71,2.97,3.08,3.31,4.36,4.49,4.73,5.0,5.21,5.44,5.69,5.86,6.14,6.41,6.66,6.95],
[-3.40,-6.03,-5.69,-5.21,-4.66,-4.14,-3.64,-3.17,-2.61,-2.12,-1.52,-1.06,-0.97,-0.71,-0.47,-0.24,0.08,0.31,0.57,0.8,1.03,1.27,1.49,1.73,2.0,2.21,2.44,2.69,2.86,3.14,4.64,5.12,5.36,5.61,5.92,6.06,6.2,6.33,6.42,6.52,6.65,6.78],
[-3.52,-4.9,-2.57,-2.08,-1.49,-1.12,-1.03,-0.86,-0.69,-0.44,-0.21,0.14,0.41,0.66,0.95,1.17,1.39,1.64,1.88,2.12,2.36,2.61,2.92,3.06,5.2,5.31,5.57,5.8,6.03,6.15,6.27,6.38,6.49,6.6],
[-3.64,-4.2,-2.66,-2.14,-1.64,-1.39,-1.17,-0.92,-0.61,-0.36,-0.12,0.06,0.33,0.52,0.78,1.0,1.24,1.47,1.71,1.97,2.08,2.31,2.57,2.8,2.95,5.3,5.41,5.66,5.95,6.17,6.39],
[-3.76,-2.52,-2.06,-1.71,-1.24,-1.1,-0.8,-0.57,-0.31,-0.08,0.03,0.27,0.49,0.73,0.98,1.21,1.44,1.69,1.86,2.14,2.41,2.66,2.9,5.4,5.52,5.78,6.06,6.2],
[-3.88,-2.05,-1.69,-1.21,-0.95,-0.66,-0.4,-0.14,0.17,0.4,0.64,0.9,1.12,1.35,1.61,1.85,2.06,2.3,2.52,2.85],
[-4.00,-1.9,-1.45,-0.98,-0.55,1.25,1.58,1.9,2.22,2.5,2.8],
[-4.12,1.3,1.6,1.92,2.2,2.45],
[-4.24,1.38,1.65,1.9,2.05]
];

const group1Rows = [
[1.54,-6.12,-6.0,-5.86,-5.7,-5.56,-5.38,-5.24,-5.08,-4.92,-4.78,-4.64,-4.5,-4.36,-4.22,-4.08,-3.94,-3.8,-3.64,-3.5,-3.34,-3.06],
[1.45,-6.1,-5.96,-5.76,-5.62,-5.48,-5.34,-5.2,-5.06,-4.94,-4.82,-4.7,-4.58,-4.46,-4.34,-4.22,-4.1,-3.98,-3.86,-3.72,-3.58,-3.44,-3.18,-2.97],
[1.36,-6.08,-5.92,-5.8,-5.66,-5.54,-5.42,-5.3,-5.18,-5.06,-4.95,-4.84,-4.73,-4.62,-4.51,-4.4,-4.29,-4.18,-4.07,-3.96,-3.85,-3.72,-3.6,-3.48,-3.36,-3.1,-2.96],
[1.27,-6.1,-5.97,-5.84,-5.72,-5.6,-5.48,-5.36,-5.24,-5.12,-5.0,-4.89,-4.78,-4.67,-4.56,-4.45,-4.34,-4.23,-4.12,-4.01,-3.9,-3.78,-3.66,-3.54,-3.42,-3.22,-3.08,-2.96],
[1.18,-6.05,-5.93,-5.8,-5.68,-5.56,-5.44,-5.32,-5.2,-5.08,-4.97,-4.86,-4.75,-4.64,-4.53,-4.42,-4.31,-4.2,-4.09,-3.98,-3.87,-3.76,-3.64,-3.52,-3.38,-3.26,-3.0],
[1.09,-6.1,-5.98,-5.86,-5.74,-5.62,-5.5,-5.38,-5.26,-5.14,-5.02,-4.91,-4.8,-4.69,-4.58,-4.47,-4.36,-4.25,-4.14,-4.03,-3.92,-3.8,-3.68,-3.56,-3.44,-3.3,-3.14,-2.97],
[1.00,-6.06,-5.94,-5.82,-5.7,-5.58,-5.46,-5.34,-5.22,-5.1,-4.98,-4.87,-4.76,-4.65,-4.54,-4.43,-4.32,-4.21,-4.1,-3.99,-3.88,-3.76,-3.64,-3.52,-3.4,-3.26,-3.12,-2.98],
[0.91,-6.1,-5.99,-5.88,-5.77,-5.66,-5.55,-5.44,-5.33,-5.22,-5.11,-5.0,-4.89,-4.78,-4.67,-4.56,-4.45,-4.34,-4.23,-4.12,-4.01,-3.9,-3.79,-3.68,-3.57,-3.46,-3.35,-3.24,-3.13,-2.97],
[0.82,-6.05,-5.94,-5.83,-5.72,-5.61,-5.5,-5.39,-5.28,-5.17,-5.06,-4.95,-4.84,-4.73,-4.62,-4.51,-4.4,-4.29,-4.18,-4.07,-3.96,-3.85,-3.74,-3.63,-3.52,-3.41,-3.3,-3.19,-3.08,-2.97],
[0.73,-6.1,-5.98,-5.87,-5.76,-5.65,-5.54,-5.43,-5.32,-5.21,-5.1,-4.99,-4.88,-4.77,-4.66,-4.55,-4.44,-4.33,-4.22,-4.11,-4.0,-3.89,-3.78,-3.67,-3.56,-3.45,-3.34,-3.23,-3.12,-2.98],
[0.64,-6.06,-5.95,-5.84,-5.73,-5.62,-5.51,-5.4,-5.29,-5.18,-5.07,-4.96,-4.85,-4.74,-4.63,-4.52,-4.41,-4.3,-4.19,-4.08,-3.97,-3.86,-3.75,-3.64,-3.53,-3.42,-3.31,-3.2,-3.09,-2.96],
[0.55,-6.1,-5.99,-5.88,-5.77,-5.66,-5.55,-5.44,-5.33,-5.22,-5.11,-5.0,-4.89,-4.78,-4.67,-4.56,-4.45,-4.34,-4.23,-4.12,-4.01,-3.9,-3.79,-3.68,-3.57,-3.46,-3.35,-3.24,-3.13,-2.98],
[0.46,-6.05,-5.94,-5.83,-5.72,-5.61,-5.5,-5.39,-5.28,-5.17,-5.06,-4.95,-4.84,-4.73,-4.62,-4.51,-4.4,-4.29,-4.18,-4.07,-3.96,-3.85,-3.74,-3.63,-3.52,-3.41,-3.3,-3.19,-3.08,-2.97],
[0.37,-6.1,-5.98,-5.87,-5.76,-5.65,-5.54,-5.43,-5.32,-5.21,-5.1,-4.99,-4.88,-4.77,-4.66,-4.55,-4.44,-4.33,-4.22,-4.11,-4.0,-3.89,-3.78,-3.67,-3.56,-3.45,-3.34,-3.23,-3.12,-2.98],
[0.28,-6.06,-5.95,-5.84,-5.73,-5.62,-5.51,-5.4,-5.29,-5.18,-5.07,-4.96,-4.85,-4.74,-4.63,-4.52,-4.41,-4.3,-4.19,-4.08,-3.97,-3.86,-3.75,-3.64,-3.53,-3.42,-3.31,-3.2,-3.09,-2.97]
];

// ---- build points ----
function rowsToPoints(rows) {
  const pts = [];
  rows.forEach(r => { for (let i = 1; i < r.length; i++) pts.push({ x: r[i], y: r[0] }); });
  return pts;
}

const FONT = '"Liberation Sans", Arial, Helvetica, sans-serif';
Chart.defaults.font.family = FONT;
Chart.defaults.color = '#000';

const sideLegend = {
  id: 'sideLegend',
  afterDraw(chart) {
    const c = chart.ctx;
    c.save();
    chart.data.datasets.forEach((ds, i) => {
      const cy = 484 + i * 42;
      c.beginPath();
      c.arc(1679, cy, 10, 0, Math.PI * 2);
      c.fillStyle = ds.backgroundColor;
      c.fill();
      c.fillStyle = '#000';
      c.font = '33px ' + FONT;
      c.textBaseline = 'middle';
      c.textAlign = 'left';
      c.fillText(ds.label, 1719, cy + 1);
    });
    c.restore();
  }
};

new Chart(document.getElementById('c').getContext('2d'), {
  type: 'scatter',
  data: {
    datasets: [
      { label: seriesNames[0], data: rowsToPoints(unselectedRows), backgroundColor: seriesColors[0], borderWidth: 0, pointRadius: 4, order: 2 },
      { label: seriesNames[1], data: rowsToPoints(group1Rows), backgroundColor: seriesColors[1], borderWidth: 0, pointRadius: 5.3, order: 1 }
    ]
  },
  options: {
    responsive: false,
    devicePixelRatio: 1,
    animation: false,
    events: [],
    layout: { padding: { left: 0, top: 37, right: 295, bottom: 0 } },
    plugins: { legend: { display: false }, tooltip: { enabled: false } },
    scales: {
      x: {
        type: 'linear', min: -8.07, max: 10.08,
        afterFit: s => { s.height = 125; },
        afterBuildTicks: s => { s.ticks = xTickValues.map(v => ({ value: v })); },
        ticks: { autoSkip: false, maxRotation: 0, padding: 2, color: '#000', font: { size: 33 },
          callback: v => { const i = xTickValues.indexOf(v); return i >= 0 ? xTickLabels[i] : ''; } },
        grid: { display: true, drawOnChartArea: false, drawTicks: true, tickLength: 8, color: '#000', lineWidth: 2.4 },
        border: { display: true, color: '#000', width: 2.4 },
        title: { display: true, text: axisTitles[0], color: '#000', font: { size: 38 }, padding: { top: 0, bottom: 32 } }
      },
      y: {
        type: 'linear', min: -4.83, max: 6.76,
        afterFit: s => { s.width = 155; },
        afterBuildTicks: s => { s.ticks = yTickValues.map(v => ({ value: v })); },
        ticks: { autoSkip: false, padding: 9, color: '#000', font: { size: 33 },
          callback: v => { const i = yTickValues.indexOf(v); return i >= 0 ? yTickLabels[i] : ''; } },
        grid: { display: true, drawOnChartArea: false, drawTicks: true, tickLength: 8, color: '#000', lineWidth: 2.4 },
        border: { display: true, color: '#000', width: 2.4 },
        title: { display: true, text: axisTitles[1], color: '#000', font: { size: 38 }, padding: { top: 26, bottom: 0 } }
      }
    }
  },
  plugins: [sideLegend]
});
</script>
</body>
</html>
